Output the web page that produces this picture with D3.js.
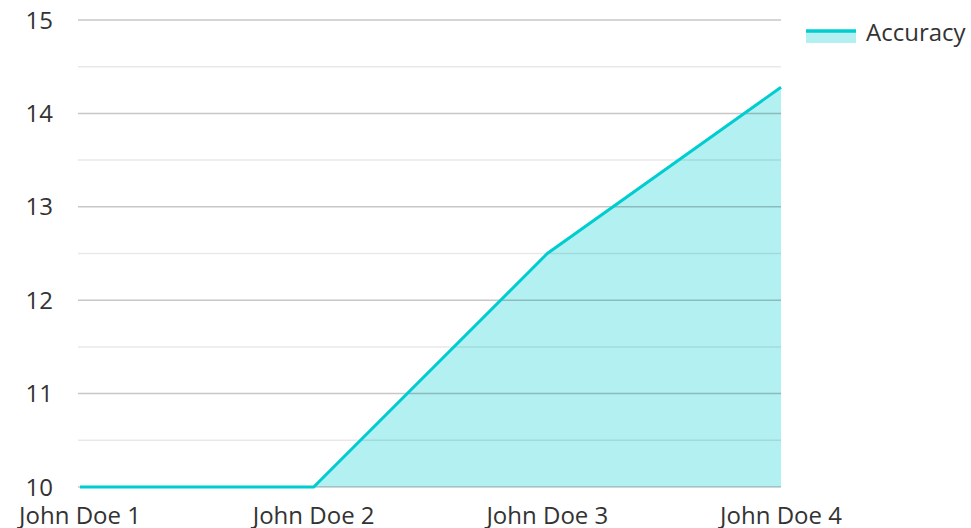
<!DOCTYPE html>
<html>
<head>
<meta charset="utf-8">
<script src="https://cdn.jsdelivr.net/npm/d3@7"></script>
<style>
	body { margin: 0; background: #fff; }
	text { font-family: "Open Sans", sans-serif; fill: #333; }
</style>
</head>
<body>
<svg width="971" height="528"></svg>
<script>
var names = ["John Doe 1", "John Doe 2", "John Doe 3", "John Doe 4"];
var accuracy = [10, 10, 12.5, 14.28];
var yTicks = [10, 11, 12, 13, 14, 15];
var seriesName = "Accuracy";

var svg = d3.select("svg");
var plotLeft = 80, plotRight = 781, plotTop = 20, plotBottom = 487;
var lineColor = "#00cdd0";
var fontSize = "24px";

var x = d3.scalePoint().domain(names).range([plotLeft, plotRight]);
var y = d3.scaleLinear().domain([10, 15]).range([plotBottom, plotTop]);

var data = names.map(function(n, i) { return { name: n, value: accuracy[i] }; });

// area fill under the line
svg.append("path")
	.datum(data)
	.attr("fill", lineColor)
	.attr("fill-opacity", 0.3)
	.attr("d", d3.area()
		.x(function(d) { return x(d.name); })
		.y0(y(10))
		.y1(function(d) { return y(d.value); }));

// gridlines sit over the fill
var minor = d3.range(10.5, 15, 1);
svg.append("g").selectAll("line")
	.data(minor)
	.enter().append("line")
	.attr("x1", plotLeft - 2).attr("x2", plotRight)
	.attr("y1", function(d) { return y(d); })
	.attr("y2", function(d) { return y(d); })
	.attr("stroke", "#000").attr("stroke-opacity", 0.09)
	.attr("stroke-width", 1.5);

svg.append("g").selectAll("line")
	.data(yTicks)
	.enter().append("line")
	.attr("x1", plotLeft - 2).attr("x2", plotRight)
	.attr("y1", function(d) { return y(d); })
	.attr("y2", function(d) { return y(d); })
	.attr("stroke", "#000").attr("stroke-opacity", 0.22)
	.attr("stroke-width", 1.5);

svg.append("path")
	.datum(data)
	.attr("fill", "none")
	.attr("stroke", lineColor)
	.attr("stroke-width", 3)
	.attr("d", d3.line()
		.x(function(d) { return x(d.name); })
		.y(function(d) { return y(d.value); }));

// y labels
svg.append("g").selectAll("text")
	.data(yTicks)
	.enter().append("text")
	.attr("x", 53)
	.attr("y", function(d) { return y(d); })
	.attr("dy", "0.36em")
	.attr("text-anchor", "end")
	.style("font-size", fontSize)
	.text(function(d) { return d; });

// x labels
svg.append("g").selectAll("text")
	.data(names)
	.enter().append("text")
	.attr("x", function(d) { return x(d); })
	.attr("y", 524)
	.attr("text-anchor", "middle")
	.style("font-size", fontSize)
	.text(function(d) { return d; });

// legend
var lg = svg.append("g");
lg.append("rect")
	.attr("x", 806).attr("y", 32).attr("width", 50).attr("height", 11)
	.attr("fill", lineColor).attr("fill-opacity", 0.3);
lg.append("line")
	.attr("x1", 806).attr("x2", 856).attr("y1", 31).attr("y2", 31)
	.attr("stroke", lineColor).attr("stroke-width", 3.5);
lg.append("text")
	.attr("x", 866).attr("y", 41)
	.style("font-size", fontSize)
	.text(seriesName);
</script>
</body>
</html>
